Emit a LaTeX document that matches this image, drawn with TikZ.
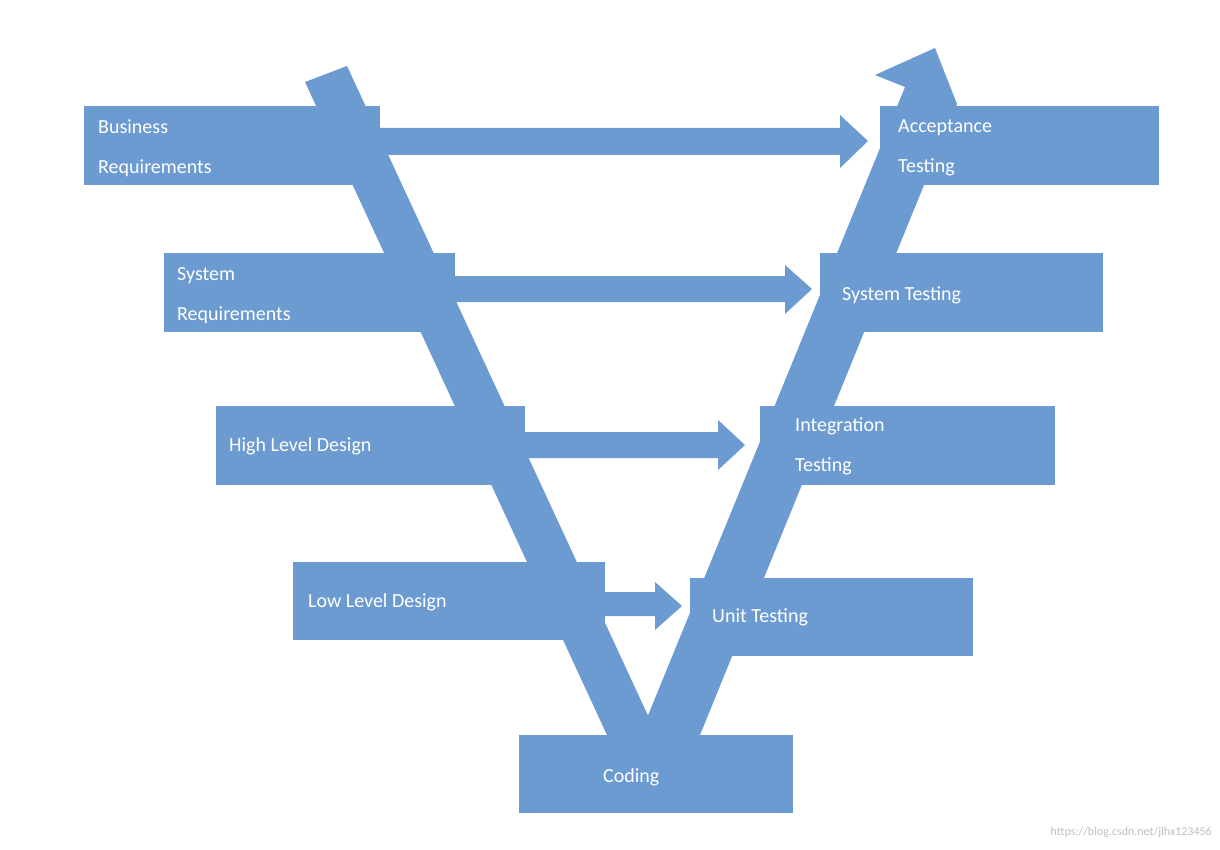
\documentclass[tikz,border=0pt]{standalone}
\usepackage{fontspec}
\setmainfont{Carlito}
\definecolor{vblue}{RGB}{108,155,209}
\begin{document}
\begin{tikzpicture}[x=1pt,y=-1pt,
  lbl/.style={anchor=west,align=left,text=white,inner sep=0pt,font=\fontsize{20}{40}\selectfont},
  box/.style={fill=vblue}]
\useasboundingbox[fill=white] (0,0) rectangle (1220,850);
% boxes
\fill[box] (84,106) rectangle (380,185);
\fill[box] (164,253) rectangle (455,332);
\fill[box] (216,406) rectangle (525,485);
\fill[box] (293,562) rectangle (605,640);
\fill[box] (519,735) rectangle (793,813);
\fill[box] (880,106) rectangle (1159,185);
\fill[box] (820,253) rectangle (1103,332);
\fill[box] (760,406) rectangle (1055,485);
\fill[box] (690,578) rectangle (973,656);
% left band
\fill[vblue] (305,82) -- (347,66) -- (657,735) -- (607,735) -- cycle;
% right band with arrowhead
\fill[vblue] (640,735) -- (700,735) -- (957,104) -- (935,48) -- (875,75) -- (905,87) -- cycle;
% horizontal arrows
\fill[vblue] (375,128) -- (840,128) -- (840,115) -- (868,141) -- (840,168) -- (840,155) -- (375,155) -- cycle;
\fill[vblue] (450,276) -- (785,276) -- (785,265) -- (812,289) -- (785,314) -- (785,302) -- (450,302) -- cycle;
\fill[vblue] (520,432) -- (718,432) -- (718,420) -- (745,445) -- (718,470) -- (718,458) -- (520,458) -- cycle;
\fill[vblue] (600,592) -- (655,592) -- (655,582) -- (682,606) -- (655,630) -- (655,616) -- (600,616) -- cycle;
% labels
\node[lbl] (br) at (98,148) {Business\\Requirements};
\node[lbl] (sr) at (177,296) {System\\Requirements};
\node[lbl] (hl) at (229,446) {High Level Design};
\node[lbl] (ll) at (308,602) {Low Level Design};
\node[lbl] (co) at (603,777) {Coding};
\node[lbl] (at) at (898,148) {Acceptance\\Testing};
\node[lbl] (st) at (842,295) {System Testing};
\node[lbl] (it) at (795,446) {Integration\\Testing};
\node[lbl] (ut) at (712,617) {Unit Testing};
\node[anchor=east,text=black!25,inner sep=0pt,font=\fontsize{12}{14}\selectfont] (wm) at (1212,832) {https://blog.csdn.net/jlhx123456};
\end{tikzpicture}
\end{document}
